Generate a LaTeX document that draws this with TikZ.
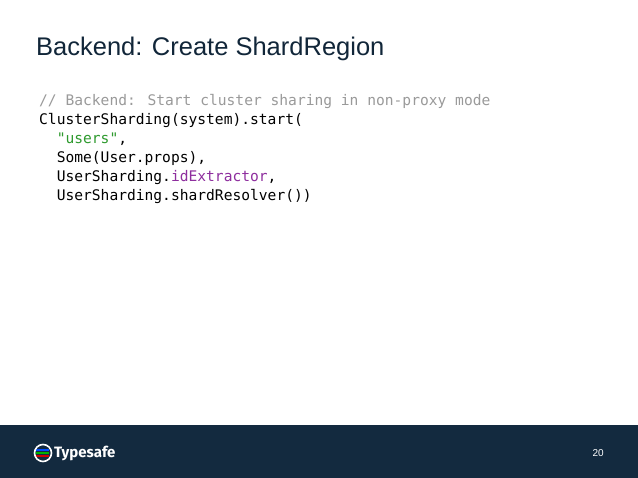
\documentclass[tikz,border=0pt]{standalone}
\usepackage{fontspec}
\usetikzlibrary{calc}
\setmainfont{Liberation Sans}
\newfontfamily\codefont{DejaVu Sans Mono}
\newfontfamily\logofont{Fira Sans}
\definecolor{band}{HTML}{132A3F}
\definecolor{cgray}{HTML}{9A9A9A}
\definecolor{cgreen}{HTML}{2E9A2E}
\definecolor{cpurple}{HTML}{8E2E9E}
\begin{document}
\begin{tikzpicture}[x=1pt,y=1pt,
  code/.style={anchor=base west,inner sep=0pt,font=\codefont\fontsize{14.6}{17}\selectfont}]
\useasboundingbox (0,0) rectangle (638,478);
\fill[white] (0,0) rectangle (638,478);
\node[anchor=base west,inner sep=0pt,font=\fontsize{25.5}{30}\selectfont,text=band!90!black] (title) at (36,478-56) {Backend: Create ShardRegion};
\node[code,text=cgray] (l1) at (39,478-106) {// Backend: Start cluster sharing in non-proxy mode};
\node[code] (l2) at (39,478-125) {ClusterSharding(system).start(};
\node[code] (l3) at (39,478-144) {\ \ \textcolor{cgreen}{"users"},};
\node[code] (l4) at (39,478-163) {\ \ Some(User.props),};
\node[code] (l5) at (39,478-182) {\ \ UserSharding.\textcolor{cpurple}{idExtractor},};
\node[code] (l6) at (39,478-201) {\ \ UserSharding.shardResolver())};
\fill[band] (0,0) rectangle (638,53);
\node[anchor=base east,inner sep=0pt,text=white,font=\fontsize{10}{12}\selectfont] (pg) at (604,478-457) {20};
% logo
\coordinate (lc) at (43,25);
\begin{scope}
\clip (lc) circle (7.5);
\fill[blue!70!cyan] ($(lc)+(-8,1.8)$) rectangle ($(lc)+(6,4)$);
\fill[green!70!black] ($(lc)+(-8,-1)$) rectangle ($(lc)+(6,1)$);
\fill[red!80!black] ($(lc)+(-8,-4)$) rectangle ($(lc)+(6,-1.8)$);
\end{scope}
\draw[white,line width=1.6pt] (lc) circle (8.5);
\node[anchor=west,inner sep=0pt,text=white,font=\logofont\bfseries\fontsize{15}{18}\selectfont] (logo) at (54,25) {Typesafe};
\end{tikzpicture}
\end{document}
